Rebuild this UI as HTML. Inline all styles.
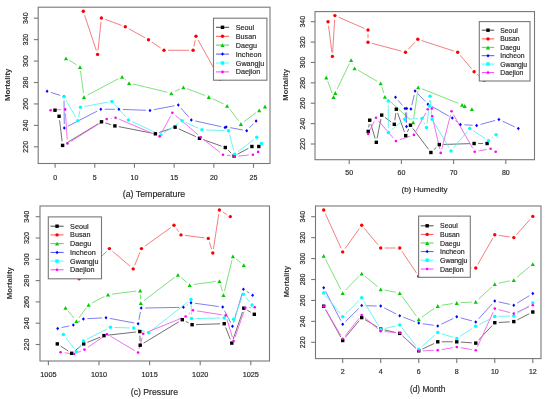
<!DOCTYPE html>
<html><head><meta charset="utf-8"><style>
html,body{margin:0;padding:0;background:#fff;width:550px;height:399px;overflow:hidden}
svg{display:block;will-change:transform}
text{font-family:"Liberation Sans",sans-serif;fill:#2a2a2a;stroke:#2a2a2a;stroke-width:0.18px}
.tk{font-size:7px}
.lg{font-size:7px;fill:#2a2a2a}
.tt{font-size:8.5px;fill:#2a2a2a}
.ml{font-size:8px;font-weight:bold;fill:#333;stroke:none}
</style></head><body>
<svg width="550" height="399" viewBox="0 0 550 399">
<rect width="550" height="399" fill="#fff"/>
<path d="M59.58 120.27L62.12 141.43M66.02 143.33L98.08 123.87M105.32 122.97L111.08 124.73M118.83 126.67L151.47 133.03M159.19 132.53L171.31 128.47M178.74 128.86L195.86 136.64M203.27 139.64L221.53 146.16M228.18 150.28L231.22 153.22M237.63 154.12L248.37 148.38" stroke="#606060" stroke-width="0.9" fill="none"/>
<path d="M84.56 15.10L96.34 50.60M98.02 50.42L100.98 21.98M105.15 19.38L121.55 25.42M128.80 28.74L145.00 37.76M151.80 41.96L160.70 48.04M168.00 50.30L189.10 50.30M193.91 46.38L195.19 40.22M197.95 39.79L218.05 75.81M222.57 76.24L229.43 68.06M235.39 62.88L244.61 57.12M251.77 56.35L258.23 58.65" stroke="#F07070" stroke-width="0.9" fill="none"/>
<path d="M69.39 60.33L76.61 64.87M80.53 70.96L83.47 93.04M87.53 95.12L118.57 78.58M125.07 79.38L126.13 80.32M132.99 83.94L167.41 92.26M174.90 91.45L179.80 89.05M187.14 88.71L205.06 95.49M212.40 98.63L223.50 103.97M229.52 108.89L238.48 120.71M244.11 121.51L255.99 112.69" stroke="#70DC70" stroke-width="0.9" fill="none"/>
<path d="M50.91 92.42L60.19 95.38M64.04 100.60L64.26 124.10M67.85 126.26L97.25 111.04M104.80 109.22L114.90 109.28M122.90 109.44L146.00 110.26M153.93 109.65L174.37 105.75M180.91 108.03L188.69 117.07M195.21 120.96L221.09 126.64M230.13 127.63L242.77 129.97M249.47 127.81L253.33 123.79" stroke="#7070F0" stroke-width="0.9" fill="none"/>
<path d="M65.99 100.27L75.81 117.33M78.58 116.88L79.72 111.12M84.43 106.47L107.97 102.13M114.57 104.38L125.83 116.92M132.13 121.59L157.27 133.31M164.22 132.77L178.78 123.03M185.74 122.46L198.26 128.14M205.90 129.94L224.50 130.56M229.52 134.57L233.68 150.43M237.86 151.85L253.64 139.65" stroke="#60F0F0" stroke-width="0.9" fill="none"/>
<path d="M54.59 109.98L61.21 109.62M65.47 113.39L67.23 139.51M70.89 141.38L103.31 121.12M110.66 118.42L111.64 118.28M119.28 119.26L155.92 134.84M161.50 132.88L170.50 116.22M175.43 115.31L197.77 134.59M203.94 139.68L219.86 152.22M226.96 155.28L230.54 155.82M238.48 156.03L248.92 155.07" stroke="#F060F0" stroke-width="0.9" fill="none"/>
<rect x="53.30" y="108.50" width="3.40" height="3.40" fill="#000000"/>
<rect x="57.40" y="114.60" width="3.40" height="3.40" fill="#000000"/>
<rect x="60.90" y="143.70" width="3.40" height="3.40" fill="#000000"/>
<rect x="99.80" y="120.10" width="3.40" height="3.40" fill="#000000"/>
<rect x="113.20" y="124.20" width="3.40" height="3.40" fill="#000000"/>
<rect x="153.70" y="132.10" width="3.40" height="3.40" fill="#000000"/>
<rect x="173.40" y="125.50" width="3.40" height="3.40" fill="#000000"/>
<rect x="197.80" y="136.60" width="3.40" height="3.40" fill="#000000"/>
<rect x="223.60" y="145.80" width="3.40" height="3.40" fill="#000000"/>
<rect x="232.40" y="154.30" width="3.40" height="3.40" fill="#000000"/>
<rect x="250.20" y="144.80" width="3.40" height="3.40" fill="#000000"/>
<rect x="257.10" y="144.80" width="3.40" height="3.40" fill="#000000"/>
<circle cx="83.30" cy="11.30" r="1.70" fill="#FF0000"/>
<circle cx="97.60" cy="54.40" r="1.70" fill="#FF0000"/>
<circle cx="101.40" cy="18.00" r="1.70" fill="#FF0000"/>
<circle cx="125.30" cy="26.80" r="1.70" fill="#FF0000"/>
<circle cx="148.50" cy="39.70" r="1.70" fill="#FF0000"/>
<circle cx="164.00" cy="50.30" r="1.70" fill="#FF0000"/>
<circle cx="193.10" cy="50.30" r="1.70" fill="#FF0000"/>
<circle cx="196.00" cy="36.30" r="1.70" fill="#FF0000"/>
<circle cx="220.00" cy="79.30" r="1.70" fill="#FF0000"/>
<circle cx="232.00" cy="65.00" r="1.70" fill="#FF0000"/>
<circle cx="248.00" cy="55.00" r="1.70" fill="#FF0000"/>
<circle cx="262.00" cy="60.00" r="1.70" fill="#FF0000"/>
<polygon points="66.00,56.40 68.07,60.20 63.93,60.20" fill="#00CD00"/>
<polygon points="80.00,65.20 82.07,69.00 77.93,69.00" fill="#00CD00"/>
<polygon points="84.00,95.20 86.07,99.00 81.93,99.00" fill="#00CD00"/>
<polygon points="122.10,74.90 124.17,78.70 120.03,78.70" fill="#00CD00"/>
<polygon points="129.10,81.20 131.17,85.00 127.03,85.00" fill="#00CD00"/>
<polygon points="171.30,91.40 173.37,95.20 169.23,95.20" fill="#00CD00"/>
<polygon points="183.40,85.50 185.47,89.30 181.33,89.30" fill="#00CD00"/>
<polygon points="208.80,95.10 210.87,98.90 206.73,98.90" fill="#00CD00"/>
<polygon points="227.10,103.90 229.17,107.70 225.03,107.70" fill="#00CD00"/>
<polygon points="240.90,122.10 242.97,125.90 238.83,125.90" fill="#00CD00"/>
<polygon points="259.20,108.50 261.27,112.30 257.13,112.30" fill="#00CD00"/>
<polygon points="265.00,104.60 267.07,108.40 262.93,108.40" fill="#00CD00"/>
<polygon points="47.10,89.45 48.59,91.20 47.10,92.95 45.61,91.20" fill="#0000FF"/>
<polygon points="64.00,94.85 65.49,96.60 64.00,98.35 62.51,96.60" fill="#0000FF"/>
<polygon points="64.30,126.35 65.79,128.10 64.30,129.85 62.81,128.10" fill="#0000FF"/>
<polygon points="100.80,107.45 102.29,109.20 100.80,110.95 99.31,109.20" fill="#0000FF"/>
<polygon points="118.90,107.55 120.39,109.30 118.90,111.05 117.41,109.30" fill="#0000FF"/>
<polygon points="150.00,108.65 151.49,110.40 150.00,112.15 148.51,110.40" fill="#0000FF"/>
<polygon points="178.30,103.25 179.79,105.00 178.30,106.75 176.81,105.00" fill="#0000FF"/>
<polygon points="191.30,118.35 192.79,120.10 191.30,121.85 189.81,120.10" fill="#0000FF"/>
<polygon points="225.00,125.75 226.49,127.50 225.00,129.25 223.51,127.50" fill="#0000FF"/>
<polygon points="226.20,125.15 227.69,126.90 226.20,128.65 224.71,126.90" fill="#0000FF"/>
<polygon points="246.70,128.95 248.19,130.70 246.70,132.45 245.21,130.70" fill="#0000FF"/>
<polygon points="256.10,119.15 257.59,120.90 256.10,122.65 254.61,120.90" fill="#0000FF"/>
<circle cx="64.00" cy="96.80" r="1.75" fill="#00FFFF"/>
<circle cx="77.80" cy="120.80" r="1.75" fill="#00FFFF"/>
<circle cx="80.50" cy="107.20" r="1.75" fill="#00FFFF"/>
<circle cx="111.90" cy="101.40" r="1.75" fill="#00FFFF"/>
<circle cx="128.50" cy="119.90" r="1.75" fill="#00FFFF"/>
<circle cx="160.90" cy="135.00" r="1.75" fill="#00FFFF"/>
<circle cx="182.10" cy="120.80" r="1.75" fill="#00FFFF"/>
<circle cx="201.90" cy="129.80" r="1.75" fill="#00FFFF"/>
<circle cx="228.50" cy="130.70" r="1.75" fill="#00FFFF"/>
<circle cx="234.70" cy="154.30" r="1.75" fill="#00FFFF"/>
<circle cx="256.80" cy="137.20" r="1.75" fill="#00FFFF"/>
<circle cx="261.50" cy="143.40" r="1.75" fill="#00FFFF"/>
<circle cx="50.60" cy="110.20" r="1.30" fill="#FF00FF"/>
<circle cx="65.20" cy="109.40" r="1.30" fill="#FF00FF"/>
<circle cx="67.50" cy="143.50" r="1.30" fill="#FF00FF"/>
<circle cx="106.70" cy="119.00" r="1.30" fill="#FF00FF"/>
<circle cx="115.60" cy="117.70" r="1.30" fill="#FF00FF"/>
<circle cx="159.60" cy="136.40" r="1.30" fill="#FF00FF"/>
<circle cx="172.40" cy="112.70" r="1.30" fill="#FF00FF"/>
<circle cx="200.80" cy="137.20" r="1.30" fill="#FF00FF"/>
<circle cx="223.00" cy="154.70" r="1.30" fill="#FF00FF"/>
<circle cx="234.50" cy="156.40" r="1.30" fill="#FF00FF"/>
<circle cx="252.90" cy="154.70" r="1.30" fill="#FF00FF"/>
<circle cx="258.10" cy="151.90" r="1.30" fill="#FF00FF"/>
<rect x="38.2" y="7.2" width="231.80" height="156.30" fill="none" stroke="#787878" stroke-width="1.1"/>
<line x1="33.90" y1="146.80" x2="38.20" y2="146.80" stroke="#787878" stroke-width="1.1"/>
<text transform="translate(25.60,146.80) rotate(-90)" class="tk" style="font-size:7.0px" text-anchor="middle" dy="0.36em">220</text>
<line x1="33.90" y1="125.37" x2="38.20" y2="125.37" stroke="#787878" stroke-width="1.1"/>
<text transform="translate(25.60,125.37) rotate(-90)" class="tk" style="font-size:7.0px" text-anchor="middle" dy="0.36em">240</text>
<line x1="33.90" y1="103.93" x2="38.20" y2="103.93" stroke="#787878" stroke-width="1.1"/>
<text transform="translate(25.60,103.93) rotate(-90)" class="tk" style="font-size:7.0px" text-anchor="middle" dy="0.36em">260</text>
<line x1="33.90" y1="82.50" x2="38.20" y2="82.50" stroke="#787878" stroke-width="1.1"/>
<text transform="translate(25.60,82.50) rotate(-90)" class="tk" style="font-size:7.0px" text-anchor="middle" dy="0.36em">280</text>
<line x1="33.90" y1="61.07" x2="38.20" y2="61.07" stroke="#787878" stroke-width="1.1"/>
<text transform="translate(25.60,61.07) rotate(-90)" class="tk" style="font-size:7.0px" text-anchor="middle" dy="0.36em">300</text>
<line x1="33.90" y1="39.63" x2="38.20" y2="39.63" stroke="#787878" stroke-width="1.1"/>
<text transform="translate(25.60,39.63) rotate(-90)" class="tk" style="font-size:7.0px" text-anchor="middle" dy="0.36em">320</text>
<line x1="33.90" y1="18.20" x2="38.20" y2="18.20" stroke="#787878" stroke-width="1.1"/>
<text transform="translate(25.60,18.20) rotate(-90)" class="tk" style="font-size:7.0px" text-anchor="middle" dy="0.36em">340</text>
<line x1="55.10" y1="163.50" x2="55.10" y2="167.80" stroke="#787878" stroke-width="1.1"/>
<text x="55.10" y="180.00" class="tk" style="font-size:7.0px" text-anchor="middle">0</text>
<line x1="94.78" y1="163.50" x2="94.78" y2="167.80" stroke="#787878" stroke-width="1.1"/>
<text x="94.78" y="180.00" class="tk" style="font-size:7.0px" text-anchor="middle">5</text>
<line x1="134.46" y1="163.50" x2="134.46" y2="167.80" stroke="#787878" stroke-width="1.1"/>
<text x="134.46" y="180.00" class="tk" style="font-size:7.0px" text-anchor="middle">10</text>
<line x1="174.14" y1="163.50" x2="174.14" y2="167.80" stroke="#787878" stroke-width="1.1"/>
<text x="174.14" y="180.00" class="tk" style="font-size:7.0px" text-anchor="middle">15</text>
<line x1="213.82" y1="163.50" x2="213.82" y2="167.80" stroke="#787878" stroke-width="1.1"/>
<text x="213.82" y="180.00" class="tk" style="font-size:7.0px" text-anchor="middle">20</text>
<line x1="253.50" y1="163.50" x2="253.50" y2="167.80" stroke="#787878" stroke-width="1.1"/>
<text x="253.50" y="180.00" class="tk" style="font-size:7.0px" text-anchor="middle">25</text>
<text transform="translate(10.40,84.80) rotate(-90)" class="ml" style="font-size:7.8px" text-anchor="middle">Mortality</text>
<text x="154.00" y="197.20" class="tt" style="font-size:8.8px" text-anchor="middle">(a) Temperature</text>
<rect x="213.50" y="18.20" width="53.40" height="62.00" fill="#fff" stroke="#787878" stroke-width="1.1"/>
<line x1="216.00" y1="27.30" x2="229.00" y2="27.30" stroke="#333333" stroke-width="0.9"/>
<rect x="220.80" y="25.60" width="3.40" height="3.40" fill="#000000"/>
<text x="235.80" y="27.30" dy="0.36em" class="lg" style="font-size:7.2px">Seoul</text>
<line x1="216.00" y1="36.30" x2="229.00" y2="36.30" stroke="#FF4040" stroke-width="0.9"/>
<circle cx="222.50" cy="36.30" r="1.70" fill="#FF0000"/>
<text x="235.80" y="36.30" dy="0.36em" class="lg" style="font-size:7.2px">Busan</text>
<line x1="216.00" y1="45.10" x2="229.00" y2="45.10" stroke="#40D040" stroke-width="0.9"/>
<polygon points="222.50,43.30 224.57,47.09 220.43,47.09" fill="#00CD00"/>
<text x="235.80" y="45.10" dy="0.36em" class="lg" style="font-size:7.2px">Daegu</text>
<line x1="216.00" y1="54.10" x2="229.00" y2="54.10" stroke="#4040FF" stroke-width="0.9"/>
<polygon points="222.50,52.35 223.99,54.10 222.50,55.85 221.01,54.10" fill="#0000FF"/>
<text x="235.80" y="54.10" dy="0.36em" class="lg" style="font-size:7.2px">Incheon</text>
<line x1="216.00" y1="63.00" x2="229.00" y2="63.00" stroke="#30FFFF" stroke-width="0.9"/>
<rect x="220.80" y="61.30" width="3.40" height="3.40" fill="#00FFFF"/>
<text x="235.80" y="63.00" dy="0.36em" class="lg" style="font-size:7.2px">Gwangju</text>
<line x1="216.00" y1="71.90" x2="229.00" y2="71.90" stroke="#FF30FF" stroke-width="0.9"/>
<circle cx="222.50" cy="71.90" r="1.30" fill="#FF00FF"/>
<text x="235.80" y="71.90" dy="0.36em" class="lg" style="font-size:7.2px">Daejion</text>
<path d="M368.73 127.44L369.17 124.16M370.84 124.03L375.16 138.47M377.08 138.38L380.92 119.02M384.93 117.46L391.07 121.94M394.83 120.33L395.77 113.17M397.64 112.97L404.36 131.83M407.38 131.97L408.82 128.83M412.89 128.40L428.51 149.30M433.81 149.76L436.39 147.34M443.30 144.47L470.10 143.63M478.10 143.50L483.10 143.50" stroke="#606060" stroke-width="0.9" fill="none"/>
<path d="M328.50 25.77L331.90 52.43M332.64 52.41L334.66 19.59M338.57 17.20L364.33 28.40M368.00 34.00L368.00 38.30M371.87 43.32L401.63 51.18M408.26 49.31L415.04 42.19M421.60 40.54L453.90 51.06M460.28 55.35L471.52 68.65M477.14 74.30L481.26 77.80M487.15 77.59L502.15 62.81M507.83 57.17L517.17 47.83" stroke="#F07070" stroke-width="0.9" fill="none"/>
<path d="M327.69 81.15L332.11 93.15M337.03 89.29L349.37 63.61M352.67 63.68L353.03 64.52M358.06 70.20L377.24 81.30M381.90 87.12L383.70 92.88M387.87 99.38L410.23 119.62M413.77 118.34L417.63 91.26M421.92 88.78L458.38 103.32" stroke="#70DC70" stroke-width="0.9" fill="none"/>
<path d="M398.09 100.25L402.41 105.35M405.33 112.39L406.17 122.61M406.54 122.60L406.66 112.40M411.81 105.20L414.19 95.00M417.91 93.95L425.19 101.35M431.47 106.19L448.83 116.11M455.44 120.58L457.26 122.02M464.39 124.75L472.61 125.25M480.46 124.44L495.04 120.46M502.51 121.11L514.69 126.89" stroke="#7070F0" stroke-width="0.9" fill="none"/>
<path d="M388.31 105.00L388.39 128.40M391.50 129.87L401.50 121.73M408.60 119.04L418.00 118.66M423.77 122.09L424.73 124.01M427.02 123.63L428.78 110.07M429.58 102.11L429.72 100.29M430.36 100.28L431.74 115.32M434.15 122.74L448.95 147.56M453.56 147.93L467.24 131.57M473.14 130.70L485.16 138.60M491.64 138.32L492.96 137.28" stroke="#60F0F0" stroke-width="0.9" fill="none"/>
<path d="M369.94 130.30L374.26 121.40M378.60 120.84L393.30 138.06M399.68 139.80L410.12 136.20M415.80 131.38L425.80 112.82M433.10 120.10L439.80 149.00M441.71 149.03L450.49 115.17M453.49 114.77L472.71 148.23M478.64 150.98L486.66 149.52" stroke="#F060F0" stroke-width="0.9" fill="none"/>
<rect x="366.50" y="129.70" width="3.40" height="3.40" fill="#000000"/>
<rect x="368.00" y="118.50" width="3.40" height="3.40" fill="#000000"/>
<rect x="374.60" y="140.60" width="3.40" height="3.40" fill="#000000"/>
<rect x="380.00" y="113.40" width="3.40" height="3.40" fill="#000000"/>
<rect x="392.60" y="122.60" width="3.40" height="3.40" fill="#000000"/>
<rect x="394.60" y="107.50" width="3.40" height="3.40" fill="#000000"/>
<rect x="404.00" y="133.90" width="3.40" height="3.40" fill="#000000"/>
<rect x="408.80" y="123.50" width="3.40" height="3.40" fill="#000000"/>
<rect x="429.20" y="150.80" width="3.40" height="3.40" fill="#000000"/>
<rect x="437.60" y="142.90" width="3.40" height="3.40" fill="#000000"/>
<rect x="472.40" y="141.80" width="3.40" height="3.40" fill="#000000"/>
<rect x="485.40" y="141.80" width="3.40" height="3.40" fill="#000000"/>
<circle cx="328.00" cy="21.80" r="1.70" fill="#FF0000"/>
<circle cx="332.40" cy="56.40" r="1.70" fill="#FF0000"/>
<circle cx="334.90" cy="15.60" r="1.70" fill="#FF0000"/>
<circle cx="368.00" cy="30.00" r="1.70" fill="#FF0000"/>
<circle cx="368.00" cy="42.30" r="1.70" fill="#FF0000"/>
<circle cx="405.50" cy="52.20" r="1.70" fill="#FF0000"/>
<circle cx="417.80" cy="39.30" r="1.70" fill="#FF0000"/>
<circle cx="457.70" cy="52.30" r="1.70" fill="#FF0000"/>
<circle cx="474.10" cy="71.70" r="1.70" fill="#FF0000"/>
<circle cx="484.30" cy="80.40" r="1.70" fill="#FF0000"/>
<circle cx="505.00" cy="60.00" r="1.70" fill="#FF0000"/>
<circle cx="520.00" cy="45.00" r="1.70" fill="#FF0000"/>
<polygon points="326.30,75.60 328.37,79.40 324.23,79.40" fill="#00CD00"/>
<polygon points="333.50,95.10 335.57,98.90 331.43,98.90" fill="#00CD00"/>
<polygon points="335.30,91.10 337.37,94.90 333.23,94.90" fill="#00CD00"/>
<polygon points="351.10,58.20 353.17,61.99 349.03,61.99" fill="#00CD00"/>
<polygon points="354.60,66.40 356.67,70.20 352.53,70.20" fill="#00CD00"/>
<polygon points="380.70,81.50 382.77,85.30 378.63,85.30" fill="#00CD00"/>
<polygon points="384.90,94.90 386.97,98.70 382.83,98.70" fill="#00CD00"/>
<polygon points="413.20,120.50 415.27,124.30 411.13,124.30" fill="#00CD00"/>
<polygon points="418.20,85.50 420.27,89.30 416.13,89.30" fill="#00CD00"/>
<polygon points="462.10,103.00 464.17,106.80 460.03,106.80" fill="#00CD00"/>
<polygon points="464.70,104.10 466.77,107.90 462.63,107.90" fill="#00CD00"/>
<polygon points="471.90,107.30 473.97,111.09 469.83,111.09" fill="#00CD00"/>
<polygon points="395.50,95.45 396.99,97.20 395.50,98.95 394.01,97.20" fill="#0000FF"/>
<polygon points="405.00,106.65 406.49,108.40 405.00,110.15 403.51,108.40" fill="#0000FF"/>
<polygon points="406.50,124.85 407.99,126.60 406.50,128.35 405.01,126.60" fill="#0000FF"/>
<polygon points="406.70,106.65 408.19,108.40 406.70,110.15 405.21,108.40" fill="#0000FF"/>
<polygon points="410.90,107.35 412.39,109.10 410.90,110.85 409.41,109.10" fill="#0000FF"/>
<polygon points="415.10,89.35 416.59,91.10 415.10,92.85 413.61,91.10" fill="#0000FF"/>
<polygon points="428.00,102.45 429.49,104.20 428.00,105.95 426.51,104.20" fill="#0000FF"/>
<polygon points="452.30,116.35 453.79,118.10 452.30,119.85 450.81,118.10" fill="#0000FF"/>
<polygon points="460.40,122.75 461.89,124.50 460.40,126.25 458.91,124.50" fill="#0000FF"/>
<polygon points="476.60,123.75 478.09,125.50 476.60,127.25 475.11,125.50" fill="#0000FF"/>
<polygon points="498.90,117.65 500.39,119.40 498.90,121.15 497.41,119.40" fill="#0000FF"/>
<polygon points="518.30,126.85 519.79,128.60 518.30,130.35 516.81,128.60" fill="#0000FF"/>
<circle cx="388.30" cy="101.00" r="1.75" fill="#00FFFF"/>
<circle cx="388.40" cy="132.40" r="1.75" fill="#00FFFF"/>
<circle cx="404.60" cy="119.20" r="1.75" fill="#00FFFF"/>
<circle cx="422.00" cy="118.50" r="1.75" fill="#00FFFF"/>
<circle cx="426.50" cy="127.60" r="1.75" fill="#00FFFF"/>
<circle cx="429.30" cy="106.10" r="1.75" fill="#00FFFF"/>
<circle cx="430.00" cy="96.30" r="1.75" fill="#00FFFF"/>
<circle cx="432.10" cy="119.30" r="1.75" fill="#00FFFF"/>
<circle cx="451.00" cy="151.00" r="1.75" fill="#00FFFF"/>
<circle cx="469.80" cy="128.50" r="1.75" fill="#00FFFF"/>
<circle cx="488.50" cy="140.80" r="1.75" fill="#00FFFF"/>
<circle cx="496.10" cy="134.80" r="1.75" fill="#00FFFF"/>
<circle cx="368.20" cy="133.90" r="1.30" fill="#FF00FF"/>
<circle cx="376.00" cy="117.80" r="1.30" fill="#FF00FF"/>
<circle cx="395.90" cy="141.10" r="1.30" fill="#FF00FF"/>
<circle cx="413.90" cy="134.90" r="1.30" fill="#FF00FF"/>
<circle cx="427.70" cy="109.30" r="1.30" fill="#FF00FF"/>
<circle cx="431.90" cy="108.50" r="1.30" fill="#FF00FF"/>
<circle cx="432.20" cy="116.20" r="1.30" fill="#FF00FF"/>
<circle cx="440.70" cy="152.90" r="1.30" fill="#FF00FF"/>
<circle cx="451.50" cy="111.30" r="1.30" fill="#FF00FF"/>
<circle cx="474.70" cy="151.70" r="1.30" fill="#FF00FF"/>
<circle cx="490.60" cy="148.80" r="1.30" fill="#FF00FF"/>
<circle cx="495.70" cy="151.80" r="1.30" fill="#FF00FF"/>
<rect x="315.0" y="11.6" width="219.50" height="148.10" fill="none" stroke="#787878" stroke-width="1.1"/>
<line x1="310.70" y1="144.00" x2="315.00" y2="144.00" stroke="#787878" stroke-width="1.1"/>
<text transform="translate(302.10,144.00) rotate(-90)" class="tk" style="font-size:7.0px" text-anchor="middle" dy="0.36em">220</text>
<line x1="310.70" y1="123.62" x2="315.00" y2="123.62" stroke="#787878" stroke-width="1.1"/>
<text transform="translate(302.10,123.62) rotate(-90)" class="tk" style="font-size:7.0px" text-anchor="middle" dy="0.36em">240</text>
<line x1="310.70" y1="103.23" x2="315.00" y2="103.23" stroke="#787878" stroke-width="1.1"/>
<text transform="translate(302.10,103.23) rotate(-90)" class="tk" style="font-size:7.0px" text-anchor="middle" dy="0.36em">260</text>
<line x1="310.70" y1="82.85" x2="315.00" y2="82.85" stroke="#787878" stroke-width="1.1"/>
<text transform="translate(302.10,82.85) rotate(-90)" class="tk" style="font-size:7.0px" text-anchor="middle" dy="0.36em">280</text>
<line x1="310.70" y1="62.47" x2="315.00" y2="62.47" stroke="#787878" stroke-width="1.1"/>
<text transform="translate(302.10,62.47) rotate(-90)" class="tk" style="font-size:7.0px" text-anchor="middle" dy="0.36em">300</text>
<line x1="310.70" y1="42.08" x2="315.00" y2="42.08" stroke="#787878" stroke-width="1.1"/>
<text transform="translate(302.10,42.08) rotate(-90)" class="tk" style="font-size:7.0px" text-anchor="middle" dy="0.36em">320</text>
<line x1="310.70" y1="21.70" x2="315.00" y2="21.70" stroke="#787878" stroke-width="1.1"/>
<text transform="translate(302.10,21.70) rotate(-90)" class="tk" style="font-size:7.0px" text-anchor="middle" dy="0.36em">340</text>
<line x1="349.20" y1="159.70" x2="349.20" y2="164.00" stroke="#787878" stroke-width="1.1"/>
<text x="349.20" y="174.60" class="tk" style="font-size:7.0px" text-anchor="middle">50</text>
<line x1="401.40" y1="159.70" x2="401.40" y2="164.00" stroke="#787878" stroke-width="1.1"/>
<text x="401.40" y="174.60" class="tk" style="font-size:7.0px" text-anchor="middle">60</text>
<line x1="453.60" y1="159.70" x2="453.60" y2="164.00" stroke="#787878" stroke-width="1.1"/>
<text x="453.60" y="174.60" class="tk" style="font-size:7.0px" text-anchor="middle">70</text>
<line x1="505.80" y1="159.70" x2="505.80" y2="164.00" stroke="#787878" stroke-width="1.1"/>
<text x="505.80" y="174.60" class="tk" style="font-size:7.0px" text-anchor="middle">80</text>
<text transform="translate(288.00,84.80) rotate(-90)" class="ml" style="font-size:7.6px" text-anchor="middle">Mortality</text>
<text x="424.50" y="191.50" class="tt" style="font-size:8.05px" text-anchor="middle">(b) Humedity</text>
<rect x="479.30" y="21.60" width="50.70" height="59.40" fill="#fff" stroke="#787878" stroke-width="1.1"/>
<line x1="481.80" y1="30.20" x2="494.20" y2="30.20" stroke="#333333" stroke-width="0.9"/>
<rect x="486.30" y="28.50" width="3.40" height="3.40" fill="#000000"/>
<text x="500.30" y="30.20" dy="0.36em" class="lg" style="font-size:6.8px">Seoul</text>
<line x1="481.80" y1="38.90" x2="494.20" y2="38.90" stroke="#FF4040" stroke-width="0.9"/>
<circle cx="488.00" cy="38.90" r="1.70" fill="#FF0000"/>
<text x="500.30" y="38.90" dy="0.36em" class="lg" style="font-size:6.8px">Busan</text>
<line x1="481.80" y1="47.40" x2="494.20" y2="47.40" stroke="#40D040" stroke-width="0.9"/>
<polygon points="488.00,45.60 490.07,49.39 485.93,49.39" fill="#00CD00"/>
<text x="500.30" y="47.40" dy="0.36em" class="lg" style="font-size:6.8px">Daegu</text>
<line x1="481.80" y1="55.70" x2="494.20" y2="55.70" stroke="#4040FF" stroke-width="0.9"/>
<polygon points="488.00,53.95 489.49,55.70 488.00,57.45 486.51,55.70" fill="#0000FF"/>
<text x="500.30" y="55.70" dy="0.36em" class="lg" style="font-size:6.8px">Incheon</text>
<line x1="481.80" y1="64.10" x2="494.20" y2="64.10" stroke="#30FFFF" stroke-width="0.9"/>
<rect x="486.30" y="62.40" width="3.40" height="3.40" fill="#00FFFF"/>
<text x="500.30" y="64.10" dy="0.36em" class="lg" style="font-size:6.8px">Gwangju</text>
<line x1="481.80" y1="72.60" x2="494.20" y2="72.60" stroke="#FF30FF" stroke-width="0.9"/>
<circle cx="488.00" cy="72.60" r="1.30" fill="#FF00FF"/>
<text x="500.30" y="72.60" dy="0.36em" class="lg" style="font-size:6.8px">Daejion</text>
<path d="M60.65 346.09L68.35 351.11M74.85 350.83L80.55 346.37M87.40 342.39L100.30 337.11M107.98 335.16L135.82 332.04M139.92 335.60L140.08 341.20M143.62 343.13L178.88 321.77M185.86 321.52L188.54 322.88M196.10 324.58L220.20 323.82M225.66 327.42L230.34 339.38M233.10 339.32L242.50 311.98M247.26 310.21L250.84 312.29" stroke="#606060" stroke-width="0.9" fill="none"/>
<path d="M58.86 260.97L66.14 259.03M71.60 261.66L77.50 275.14M81.93 275.98L106.57 251.42M112.44 251.20L130.16 266.30M134.71 265.20L139.99 252.30M144.75 246.27L170.75 227.63M176.36 228.53L178.64 231.67M184.97 235.41L204.33 237.89M209.48 242.22L211.62 249.18M213.41 249.05L218.79 213.95M222.82 212.07L226.88 214.53" stroke="#F07070" stroke-width="0.9" fill="none"/>
<path d="M68.02 310.80L73.88 318.00M78.80 317.90L86.20 308.00M92.14 302.94L104.46 296.46M111.97 294.11L136.23 291.09M140.39 294.60L140.61 299.10M143.98 300.67L174.72 277.23M180.93 277.42L186.67 282.38M193.66 284.47L215.44 281.53M220.52 284.84L222.38 291.26M224.44 291.21L231.96 260.19M236.03 258.80L240.67 262.50" stroke="#70DC70" stroke-width="0.9" fill="none"/>
<path d="M61.61 327.57L69.39 325.93M76.71 323.01L79.99 320.99M87.39 318.69L102.01 317.91M109.93 318.43L134.17 322.97M138.88 319.78L140.42 312.02M145.20 308.02L179.40 307.38M186.82 305.23L187.58 304.77M194.96 303.25L218.74 306.55M224.52 310.66L230.68 322.74M233.63 322.46L242.27 293.04M246.73 291.41L249.27 293.09" stroke="#7070F0" stroke-width="0.9" fill="none"/>
<path d="M65.80 337.60L74.00 348.50M78.58 348.34L81.22 344.26M86.98 339.11L106.92 329.09M114.50 327.44L129.70 327.96M137.53 329.27L144.97 331.53M151.94 330.22L187.86 301.88M191.10 303.40L191.40 314.60M195.50 318.53L220.20 318.07M228.16 318.55L229.64 318.75M235.05 315.57L241.95 297.93M245.90 297.33L249.60 301.97" stroke="#60F0F0" stroke-width="0.9" fill="none"/>
<path d="M64.57 352.80L70.13 353.50M77.78 352.44L80.82 351.16M87.80 347.34L103.70 336.46M110.44 336.24L134.66 350.56M139.15 348.74L142.15 337.66M146.90 332.29L181.90 318.01M188.67 313.93L189.93 312.87M196.95 310.92L221.75 314.78M226.88 319.22L232.42 337.28M234.93 337.33L244.07 311.47M249.40 307.53L250.70 307.47" stroke="#F060F0" stroke-width="0.9" fill="none"/>
<rect x="55.60" y="342.20" width="3.40" height="3.40" fill="#000000"/>
<rect x="70.00" y="351.60" width="3.40" height="3.40" fill="#000000"/>
<rect x="82.00" y="342.20" width="3.40" height="3.40" fill="#000000"/>
<rect x="102.30" y="333.90" width="3.40" height="3.40" fill="#000000"/>
<rect x="138.10" y="329.90" width="3.40" height="3.40" fill="#000000"/>
<rect x="138.50" y="343.50" width="3.40" height="3.40" fill="#000000"/>
<rect x="180.60" y="318.00" width="3.40" height="3.40" fill="#000000"/>
<rect x="190.40" y="323.00" width="3.40" height="3.40" fill="#000000"/>
<rect x="222.50" y="322.00" width="3.40" height="3.40" fill="#000000"/>
<rect x="230.10" y="341.40" width="3.40" height="3.40" fill="#000000"/>
<rect x="242.10" y="306.50" width="3.40" height="3.40" fill="#000000"/>
<rect x="252.60" y="312.60" width="3.40" height="3.40" fill="#000000"/>
<circle cx="55.00" cy="262.00" r="1.70" fill="#FF0000"/>
<circle cx="70.00" cy="258.00" r="1.70" fill="#FF0000"/>
<circle cx="79.10" cy="278.80" r="1.70" fill="#FF0000"/>
<circle cx="109.40" cy="248.60" r="1.70" fill="#FF0000"/>
<circle cx="133.20" cy="268.90" r="1.70" fill="#FF0000"/>
<circle cx="141.50" cy="248.60" r="1.70" fill="#FF0000"/>
<circle cx="174.00" cy="225.30" r="1.70" fill="#FF0000"/>
<circle cx="181.00" cy="234.90" r="1.70" fill="#FF0000"/>
<circle cx="208.30" cy="238.40" r="1.70" fill="#FF0000"/>
<circle cx="212.80" cy="253.00" r="1.70" fill="#FF0000"/>
<circle cx="219.40" cy="210.00" r="1.70" fill="#FF0000"/>
<circle cx="230.30" cy="216.60" r="1.70" fill="#FF0000"/>
<polygon points="65.50,305.90 67.57,309.69 63.43,309.69" fill="#00CD00"/>
<polygon points="76.40,319.30 78.47,323.10 74.33,323.10" fill="#00CD00"/>
<polygon points="88.60,303.00 90.67,306.80 86.53,306.80" fill="#00CD00"/>
<polygon points="108.00,292.80 110.07,296.60 105.93,296.60" fill="#00CD00"/>
<polygon points="140.20,288.80 142.27,292.60 138.13,292.60" fill="#00CD00"/>
<polygon points="140.80,301.30 142.87,305.10 138.73,305.10" fill="#00CD00"/>
<polygon points="177.90,273.00 179.97,276.80 175.83,276.80" fill="#00CD00"/>
<polygon points="189.70,283.20 191.77,287.00 187.63,287.00" fill="#00CD00"/>
<polygon points="219.40,279.20 221.47,283.00 217.33,283.00" fill="#00CD00"/>
<polygon points="223.50,293.30 225.57,297.10 221.43,297.10" fill="#00CD00"/>
<polygon points="232.90,254.50 234.97,258.30 230.83,258.30" fill="#00CD00"/>
<polygon points="243.80,263.20 245.87,267.00 241.73,267.00" fill="#00CD00"/>
<polygon points="57.70,326.65 59.19,328.40 57.70,330.15 56.21,328.40" fill="#0000FF"/>
<polygon points="73.30,323.35 74.79,325.10 73.30,326.85 71.81,325.10" fill="#0000FF"/>
<polygon points="83.40,317.15 84.89,318.90 83.40,320.65 81.91,318.90" fill="#0000FF"/>
<polygon points="106.00,315.95 107.49,317.70 106.00,319.45 104.51,317.70" fill="#0000FF"/>
<polygon points="138.10,321.95 139.59,323.70 138.10,325.45 136.61,323.70" fill="#0000FF"/>
<polygon points="141.20,306.35 142.69,308.10 141.20,309.85 139.71,308.10" fill="#0000FF"/>
<polygon points="183.40,305.55 184.89,307.30 183.40,309.05 181.91,307.30" fill="#0000FF"/>
<polygon points="191.00,300.95 192.49,302.70 191.00,304.45 189.51,302.70" fill="#0000FF"/>
<polygon points="222.70,305.35 224.19,307.10 222.70,308.85 221.21,307.10" fill="#0000FF"/>
<polygon points="232.50,324.55 233.99,326.30 232.50,328.05 231.01,326.30" fill="#0000FF"/>
<polygon points="243.40,287.45 244.89,289.20 243.40,290.95 241.91,289.20" fill="#0000FF"/>
<polygon points="252.60,293.55 254.09,295.30 252.60,297.05 251.11,295.30" fill="#0000FF"/>
<circle cx="63.40" cy="334.40" r="1.75" fill="#00FFFF"/>
<circle cx="76.40" cy="351.70" r="1.75" fill="#00FFFF"/>
<circle cx="83.40" cy="340.90" r="1.75" fill="#00FFFF"/>
<circle cx="110.50" cy="327.30" r="1.75" fill="#00FFFF"/>
<circle cx="133.70" cy="328.10" r="1.75" fill="#00FFFF"/>
<circle cx="148.80" cy="332.70" r="1.75" fill="#00FFFF"/>
<circle cx="191.00" cy="299.40" r="1.75" fill="#00FFFF"/>
<circle cx="191.50" cy="318.60" r="1.75" fill="#00FFFF"/>
<circle cx="224.20" cy="318.00" r="1.75" fill="#00FFFF"/>
<circle cx="233.60" cy="319.30" r="1.75" fill="#00FFFF"/>
<circle cx="243.40" cy="294.20" r="1.75" fill="#00FFFF"/>
<circle cx="252.10" cy="305.10" r="1.75" fill="#00FFFF"/>
<circle cx="60.60" cy="352.30" r="1.30" fill="#FF00FF"/>
<circle cx="74.10" cy="354.00" r="1.30" fill="#FF00FF"/>
<circle cx="84.50" cy="349.60" r="1.30" fill="#FF00FF"/>
<circle cx="107.00" cy="334.20" r="1.30" fill="#FF00FF"/>
<circle cx="138.10" cy="352.60" r="1.30" fill="#FF00FF"/>
<circle cx="143.20" cy="333.80" r="1.30" fill="#FF00FF"/>
<circle cx="185.60" cy="316.50" r="1.30" fill="#FF00FF"/>
<circle cx="193.00" cy="310.30" r="1.30" fill="#FF00FF"/>
<circle cx="225.70" cy="315.40" r="1.30" fill="#FF00FF"/>
<circle cx="233.60" cy="341.10" r="1.30" fill="#FF00FF"/>
<circle cx="245.40" cy="307.70" r="1.30" fill="#FF00FF"/>
<circle cx="254.70" cy="307.30" r="1.30" fill="#FF00FF"/>
<rect x="40.0" y="206.0" width="229.50" height="155.00" fill="none" stroke="#787878" stroke-width="1.1"/>
<line x1="35.70" y1="344.50" x2="40.00" y2="344.50" stroke="#787878" stroke-width="1.1"/>
<text transform="translate(26.40,344.50) rotate(-90)" class="tk" style="font-size:7.3px" text-anchor="middle" dy="0.36em">220</text>
<line x1="35.70" y1="323.20" x2="40.00" y2="323.20" stroke="#787878" stroke-width="1.1"/>
<text transform="translate(26.40,323.20) rotate(-90)" class="tk" style="font-size:7.3px" text-anchor="middle" dy="0.36em">240</text>
<line x1="35.70" y1="301.90" x2="40.00" y2="301.90" stroke="#787878" stroke-width="1.1"/>
<text transform="translate(26.40,301.90) rotate(-90)" class="tk" style="font-size:7.3px" text-anchor="middle" dy="0.36em">260</text>
<line x1="35.70" y1="280.60" x2="40.00" y2="280.60" stroke="#787878" stroke-width="1.1"/>
<text transform="translate(26.40,280.60) rotate(-90)" class="tk" style="font-size:7.3px" text-anchor="middle" dy="0.36em">280</text>
<line x1="35.70" y1="259.30" x2="40.00" y2="259.30" stroke="#787878" stroke-width="1.1"/>
<text transform="translate(26.40,259.30) rotate(-90)" class="tk" style="font-size:7.3px" text-anchor="middle" dy="0.36em">300</text>
<line x1="35.70" y1="238.00" x2="40.00" y2="238.00" stroke="#787878" stroke-width="1.1"/>
<text transform="translate(26.40,238.00) rotate(-90)" class="tk" style="font-size:7.3px" text-anchor="middle" dy="0.36em">320</text>
<line x1="35.70" y1="216.70" x2="40.00" y2="216.70" stroke="#787878" stroke-width="1.1"/>
<text transform="translate(26.40,216.70) rotate(-90)" class="tk" style="font-size:7.3px" text-anchor="middle" dy="0.36em">340</text>
<line x1="48.40" y1="361.00" x2="48.40" y2="365.30" stroke="#787878" stroke-width="1.1"/>
<text x="48.40" y="376.70" class="tk" style="font-size:7.3px" text-anchor="middle">1005</text>
<line x1="99.00" y1="361.00" x2="99.00" y2="365.30" stroke="#787878" stroke-width="1.1"/>
<text x="99.00" y="376.70" class="tk" style="font-size:7.3px" text-anchor="middle">1010</text>
<line x1="149.60" y1="361.00" x2="149.60" y2="365.30" stroke="#787878" stroke-width="1.1"/>
<text x="149.60" y="376.70" class="tk" style="font-size:7.3px" text-anchor="middle">1015</text>
<line x1="200.20" y1="361.00" x2="200.20" y2="365.30" stroke="#787878" stroke-width="1.1"/>
<text x="200.20" y="376.70" class="tk" style="font-size:7.3px" text-anchor="middle">1020</text>
<line x1="250.80" y1="361.00" x2="250.80" y2="365.30" stroke="#787878" stroke-width="1.1"/>
<text x="250.80" y="376.70" class="tk" style="font-size:7.3px" text-anchor="middle">1025</text>
<text transform="translate(11.90,283.20) rotate(-90)" class="ml" style="font-size:7.7px" text-anchor="middle">Mortality</text>
<text x="154.40" y="394.90" class="tt" style="font-size:8.7px" text-anchor="middle">(c) Pressure</text>
<rect x="48.30" y="216.90" width="53.20" height="61.90" fill="#fff" stroke="#787878" stroke-width="1.1"/>
<line x1="50.50" y1="226.20" x2="63.60" y2="226.20" stroke="#333333" stroke-width="0.9"/>
<rect x="55.35" y="224.50" width="3.40" height="3.40" fill="#000000"/>
<text x="70.10" y="226.20" dy="0.36em" class="lg" style="font-size:7.2px">Seoul</text>
<line x1="50.50" y1="234.90" x2="63.60" y2="234.90" stroke="#FF4040" stroke-width="0.9"/>
<circle cx="57.05" cy="234.90" r="1.70" fill="#FF0000"/>
<text x="70.10" y="234.90" dy="0.36em" class="lg" style="font-size:7.2px">Busan</text>
<line x1="50.50" y1="243.60" x2="63.60" y2="243.60" stroke="#40D040" stroke-width="0.9"/>
<polygon points="57.05,241.80 59.12,245.59 54.98,245.59" fill="#00CD00"/>
<text x="70.10" y="243.60" dy="0.36em" class="lg" style="font-size:7.2px">Daegu</text>
<line x1="50.50" y1="252.40" x2="63.60" y2="252.40" stroke="#4040FF" stroke-width="0.9"/>
<polygon points="57.05,250.65 58.54,252.40 57.05,254.15 55.56,252.40" fill="#0000FF"/>
<text x="70.10" y="252.40" dy="0.36em" class="lg" style="font-size:7.2px">Incheon</text>
<line x1="50.50" y1="261.10" x2="63.60" y2="261.10" stroke="#30FFFF" stroke-width="0.9"/>
<rect x="55.35" y="259.40" width="3.40" height="3.40" fill="#00FFFF"/>
<text x="70.10" y="261.10" dy="0.36em" class="lg" style="font-size:7.2px">Gwangju</text>
<line x1="50.50" y1="269.80" x2="63.60" y2="269.80" stroke="#FF30FF" stroke-width="0.9"/>
<circle cx="57.05" cy="269.80" r="1.30" fill="#FF00FF"/>
<text x="70.10" y="269.80" dy="0.36em" class="lg" style="font-size:7.2px">Daejion</text>
<path d="M325.63 309.70L340.76 337.00M345.25 337.42L359.16 320.68M365.13 319.67L377.30 327.03M384.62 329.98L395.83 332.52M402.68 336.10L415.79 348.10M422.36 349.09L434.13 343.51M441.75 341.80L452.76 341.80M460.75 342.07L471.78 342.83M478.50 340.17L492.05 325.63M498.77 322.47L509.80 321.83M517.36 319.80L529.23 313.80" stroke="#606060" stroke-width="0.9" fill="none"/>
<path d="M325.34 213.64L341.05 248.26M345.03 248.65L359.38 228.55M364.28 228.37L378.15 244.93M384.72 248.00L395.73 248.00M401.96 251.32L416.51 272.98M422.64 275.42L433.85 272.88M441.68 271.28L452.83 269.22M460.76 268.39L471.77 268.11M477.75 264.53L492.80 238.17M498.73 235.30L509.84 237.00M516.46 234.62L530.13 219.38" stroke="#F07070" stroke-width="0.9" fill="none"/>
<path d="M325.51 259.36L340.88 289.54M345.48 290.23L358.93 276.37M364.79 276.05L377.64 286.65M384.64 290.00L395.81 292.30M402.08 296.34L416.39 316.06M422.01 317.00L434.48 308.20M441.70 305.28L452.81 303.52M460.75 302.67L471.78 302.03M478.70 299.07L491.85 286.83M498.69 283.26L509.88 280.84M516.85 277.42L529.74 266.58" stroke="#70DC70" stroke-width="0.9" fill="none"/>
<path d="M325.54 291.35L340.85 320.65M345.56 321.40L358.85 308.40M365.71 305.71L376.72 305.99M384.28 307.92L396.17 313.98M403.46 317.23L415.01 321.67M422.70 323.68L433.79 325.32M441.36 324.17L453.15 318.53M460.62 317.84L471.91 320.86M478.47 318.95L492.08 304.05M498.69 301.94L509.88 304.36M517.20 303.12L529.39 295.68" stroke="#7070F0" stroke-width="0.9" fill="none"/>
<path d="M326.19 296.13L340.20 313.67M345.53 313.97L358.88 300.63M363.77 301.23L378.66 326.07M384.61 328.58L395.84 325.92M402.19 328.15L416.28 346.15M421.74 346.65L434.75 335.15M441.57 333.69L452.94 337.21M460.13 336.24L472.40 328.36M479.34 324.40L491.21 318.40M498.78 316.45L509.79 316.05M517.10 313.65L529.49 305.25" stroke="#60F0F0" stroke-width="0.9" fill="none"/>
<path d="M325.70 309.66L340.69 335.34M345.20 335.68L359.21 318.22M364.76 317.69L377.67 328.61M384.70 331.58L395.75 332.62M402.63 335.75L415.84 348.25M422.74 350.85L433.75 350.45M441.69 349.62L452.82 347.68M460.70 347.68L471.83 349.62M477.43 346.66L493.12 312.24M498.65 309.62L509.92 312.58M517.45 311.98L529.14 306.82" stroke="#F060F0" stroke-width="0.9" fill="none"/>
<rect x="321.99" y="304.50" width="3.40" height="3.40" fill="#000000"/>
<rect x="341.00" y="338.80" width="3.40" height="3.40" fill="#000000"/>
<rect x="360.01" y="315.90" width="3.40" height="3.40" fill="#000000"/>
<rect x="379.02" y="327.40" width="3.40" height="3.40" fill="#000000"/>
<rect x="398.03" y="331.70" width="3.40" height="3.40" fill="#000000"/>
<rect x="417.04" y="349.10" width="3.40" height="3.40" fill="#000000"/>
<rect x="436.05" y="340.10" width="3.40" height="3.40" fill="#000000"/>
<rect x="455.06" y="340.10" width="3.40" height="3.40" fill="#000000"/>
<rect x="474.07" y="341.40" width="3.40" height="3.40" fill="#000000"/>
<rect x="493.08" y="321.00" width="3.40" height="3.40" fill="#000000"/>
<rect x="512.09" y="319.90" width="3.40" height="3.40" fill="#000000"/>
<rect x="531.10" y="310.30" width="3.40" height="3.40" fill="#000000"/>
<circle cx="323.69" cy="210.00" r="1.70" fill="#FF0000"/>
<circle cx="342.70" cy="251.90" r="1.70" fill="#FF0000"/>
<circle cx="361.71" cy="225.30" r="1.70" fill="#FF0000"/>
<circle cx="380.72" cy="248.00" r="1.70" fill="#FF0000"/>
<circle cx="399.73" cy="248.00" r="1.70" fill="#FF0000"/>
<circle cx="418.74" cy="276.30" r="1.70" fill="#FF0000"/>
<circle cx="437.75" cy="272.00" r="1.70" fill="#FF0000"/>
<circle cx="456.76" cy="268.50" r="1.70" fill="#FF0000"/>
<circle cx="475.77" cy="268.00" r="1.70" fill="#FF0000"/>
<circle cx="494.78" cy="234.70" r="1.70" fill="#FF0000"/>
<circle cx="513.79" cy="237.60" r="1.70" fill="#FF0000"/>
<circle cx="532.80" cy="216.40" r="1.70" fill="#FF0000"/>
<polygon points="323.69,254.00 325.76,257.80 321.62,257.80" fill="#00CD00"/>
<polygon points="342.70,291.30 344.77,295.10 340.63,295.10" fill="#00CD00"/>
<polygon points="361.71,271.70 363.78,275.50 359.64,275.50" fill="#00CD00"/>
<polygon points="380.72,287.40 382.79,291.19 378.65,291.19" fill="#00CD00"/>
<polygon points="399.73,291.30 401.80,295.10 397.66,295.10" fill="#00CD00"/>
<polygon points="418.74,317.50 420.81,321.30 416.67,321.30" fill="#00CD00"/>
<polygon points="437.75,304.10 439.82,307.89 435.68,307.89" fill="#00CD00"/>
<polygon points="456.76,301.10 458.83,304.89 454.69,304.89" fill="#00CD00"/>
<polygon points="475.77,300.00 477.84,303.80 473.70,303.80" fill="#00CD00"/>
<polygon points="494.78,282.30 496.85,286.10 492.71,286.10" fill="#00CD00"/>
<polygon points="513.79,278.20 515.86,282.00 511.72,282.00" fill="#00CD00"/>
<polygon points="532.80,262.20 534.87,266.00 530.73,266.00" fill="#00CD00"/>
<polygon points="323.69,286.05 325.18,287.80 323.69,289.55 322.20,287.80" fill="#0000FF"/>
<polygon points="342.70,322.45 344.19,324.20 342.70,325.95 341.21,324.20" fill="#0000FF"/>
<polygon points="361.71,303.85 363.20,305.60 361.71,307.35 360.22,305.60" fill="#0000FF"/>
<polygon points="380.72,304.35 382.21,306.10 380.72,307.85 379.23,306.10" fill="#0000FF"/>
<polygon points="399.73,314.05 401.22,315.80 399.73,317.55 398.24,315.80" fill="#0000FF"/>
<polygon points="418.74,321.35 420.23,323.10 418.74,324.85 417.25,323.10" fill="#0000FF"/>
<polygon points="437.75,324.15 439.24,325.90 437.75,327.65 436.26,325.90" fill="#0000FF"/>
<polygon points="456.76,315.05 458.25,316.80 456.76,318.55 455.27,316.80" fill="#0000FF"/>
<polygon points="475.77,320.15 477.26,321.90 475.77,323.65 474.28,321.90" fill="#0000FF"/>
<polygon points="494.78,299.35 496.27,301.10 494.78,302.85 493.29,301.10" fill="#0000FF"/>
<polygon points="513.79,303.45 515.28,305.20 513.79,306.95 512.30,305.20" fill="#0000FF"/>
<polygon points="532.80,291.85 534.29,293.60 532.80,295.35 531.31,293.60" fill="#0000FF"/>
<circle cx="323.69" cy="293.00" r="1.75" fill="#00FFFF"/>
<circle cx="342.70" cy="316.80" r="1.75" fill="#00FFFF"/>
<circle cx="361.71" cy="297.80" r="1.75" fill="#00FFFF"/>
<circle cx="380.72" cy="329.50" r="1.75" fill="#00FFFF"/>
<circle cx="399.73" cy="325.00" r="1.75" fill="#00FFFF"/>
<circle cx="418.74" cy="349.30" r="1.75" fill="#00FFFF"/>
<circle cx="437.75" cy="332.50" r="1.75" fill="#00FFFF"/>
<circle cx="456.76" cy="338.40" r="1.75" fill="#00FFFF"/>
<circle cx="475.77" cy="326.20" r="1.75" fill="#00FFFF"/>
<circle cx="494.78" cy="316.60" r="1.75" fill="#00FFFF"/>
<circle cx="513.79" cy="315.90" r="1.75" fill="#00FFFF"/>
<circle cx="532.80" cy="303.00" r="1.75" fill="#00FFFF"/>
<circle cx="323.69" cy="306.20" r="1.30" fill="#FF00FF"/>
<circle cx="342.70" cy="338.80" r="1.30" fill="#FF00FF"/>
<circle cx="361.71" cy="315.10" r="1.30" fill="#FF00FF"/>
<circle cx="380.72" cy="331.20" r="1.30" fill="#FF00FF"/>
<circle cx="399.73" cy="333.00" r="1.30" fill="#FF00FF"/>
<circle cx="418.74" cy="351.00" r="1.30" fill="#FF00FF"/>
<circle cx="437.75" cy="350.30" r="1.30" fill="#FF00FF"/>
<circle cx="456.76" cy="347.00" r="1.30" fill="#FF00FF"/>
<circle cx="475.77" cy="350.30" r="1.30" fill="#FF00FF"/>
<circle cx="494.78" cy="308.60" r="1.30" fill="#FF00FF"/>
<circle cx="513.79" cy="313.60" r="1.30" fill="#FF00FF"/>
<circle cx="532.80" cy="305.20" r="1.30" fill="#FF00FF"/>
<rect x="315.5" y="206.0" width="225.50" height="152.60" fill="none" stroke="#787878" stroke-width="1.1"/>
<line x1="311.20" y1="342.30" x2="315.50" y2="342.30" stroke="#787878" stroke-width="1.1"/>
<text transform="translate(302.90,342.30) rotate(-90)" class="tk" style="font-size:7.0px" text-anchor="middle" dy="0.36em">220</text>
<line x1="311.20" y1="321.37" x2="315.50" y2="321.37" stroke="#787878" stroke-width="1.1"/>
<text transform="translate(302.90,321.37) rotate(-90)" class="tk" style="font-size:7.0px" text-anchor="middle" dy="0.36em">240</text>
<line x1="311.20" y1="300.43" x2="315.50" y2="300.43" stroke="#787878" stroke-width="1.1"/>
<text transform="translate(302.90,300.43) rotate(-90)" class="tk" style="font-size:7.0px" text-anchor="middle" dy="0.36em">260</text>
<line x1="311.20" y1="279.50" x2="315.50" y2="279.50" stroke="#787878" stroke-width="1.1"/>
<text transform="translate(302.90,279.50) rotate(-90)" class="tk" style="font-size:7.0px" text-anchor="middle" dy="0.36em">280</text>
<line x1="311.20" y1="258.57" x2="315.50" y2="258.57" stroke="#787878" stroke-width="1.1"/>
<text transform="translate(302.90,258.57) rotate(-90)" class="tk" style="font-size:7.0px" text-anchor="middle" dy="0.36em">300</text>
<line x1="311.20" y1="237.63" x2="315.50" y2="237.63" stroke="#787878" stroke-width="1.1"/>
<text transform="translate(302.90,237.63) rotate(-90)" class="tk" style="font-size:7.0px" text-anchor="middle" dy="0.36em">320</text>
<line x1="311.20" y1="216.70" x2="315.50" y2="216.70" stroke="#787878" stroke-width="1.1"/>
<text transform="translate(302.90,216.70) rotate(-90)" class="tk" style="font-size:7.0px" text-anchor="middle" dy="0.36em">340</text>
<line x1="342.70" y1="358.60" x2="342.70" y2="362.90" stroke="#787878" stroke-width="1.1"/>
<text x="342.70" y="374.10" class="tk" style="font-size:7.0px" text-anchor="middle">2</text>
<line x1="380.72" y1="358.60" x2="380.72" y2="362.90" stroke="#787878" stroke-width="1.1"/>
<text x="380.72" y="374.10" class="tk" style="font-size:7.0px" text-anchor="middle">4</text>
<line x1="418.74" y1="358.60" x2="418.74" y2="362.90" stroke="#787878" stroke-width="1.1"/>
<text x="418.74" y="374.10" class="tk" style="font-size:7.0px" text-anchor="middle">6</text>
<line x1="456.76" y1="358.60" x2="456.76" y2="362.90" stroke="#787878" stroke-width="1.1"/>
<text x="456.76" y="374.10" class="tk" style="font-size:7.0px" text-anchor="middle">8</text>
<line x1="494.78" y1="358.60" x2="494.78" y2="362.90" stroke="#787878" stroke-width="1.1"/>
<text x="494.78" y="374.10" class="tk" style="font-size:7.0px" text-anchor="middle">10</text>
<line x1="532.80" y1="358.60" x2="532.80" y2="362.90" stroke="#787878" stroke-width="1.1"/>
<text x="532.80" y="374.10" class="tk" style="font-size:7.0px" text-anchor="middle">12</text>
<text transform="translate(288.50,281.50) rotate(-90)" class="ml" style="font-size:7.5px" text-anchor="middle">Mortality</text>
<text x="427.70" y="391.60" class="tt" style="font-size:8.3px" text-anchor="middle">(d) Month</text>
<rect x="418.60" y="216.10" width="51.70" height="61.20" fill="#fff" stroke="#787878" stroke-width="1.1"/>
<line x1="420.80" y1="225.80" x2="433.50" y2="225.80" stroke="#333333" stroke-width="0.9"/>
<rect x="425.45" y="224.10" width="3.40" height="3.40" fill="#000000"/>
<text x="440.00" y="225.80" dy="0.36em" class="lg" style="font-size:6.95px">Seoul</text>
<line x1="420.80" y1="234.40" x2="433.50" y2="234.40" stroke="#FF4040" stroke-width="0.9"/>
<circle cx="427.15" cy="234.40" r="1.70" fill="#FF0000"/>
<text x="440.00" y="234.40" dy="0.36em" class="lg" style="font-size:6.95px">Busan</text>
<line x1="420.80" y1="243.00" x2="433.50" y2="243.00" stroke="#40D040" stroke-width="0.9"/>
<polygon points="427.15,241.20 429.22,245.00 425.08,245.00" fill="#00CD00"/>
<text x="440.00" y="243.00" dy="0.36em" class="lg" style="font-size:6.95px">Daegu</text>
<line x1="420.80" y1="251.60" x2="433.50" y2="251.60" stroke="#4040FF" stroke-width="0.9"/>
<polygon points="427.15,249.85 428.64,251.60 427.15,253.35 425.66,251.60" fill="#0000FF"/>
<text x="440.00" y="251.60" dy="0.36em" class="lg" style="font-size:6.95px">Incheon</text>
<line x1="420.80" y1="260.20" x2="433.50" y2="260.20" stroke="#30FFFF" stroke-width="0.9"/>
<rect x="425.45" y="258.50" width="3.40" height="3.40" fill="#00FFFF"/>
<text x="440.00" y="260.20" dy="0.36em" class="lg" style="font-size:6.95px">Gwangju</text>
<line x1="420.80" y1="269.00" x2="433.50" y2="269.00" stroke="#FF30FF" stroke-width="0.9"/>
<circle cx="427.15" cy="269.00" r="1.30" fill="#FF00FF"/>
<text x="440.00" y="269.00" dy="0.36em" class="lg" style="font-size:6.95px">Daejion</text>
</svg>
</body></html>
